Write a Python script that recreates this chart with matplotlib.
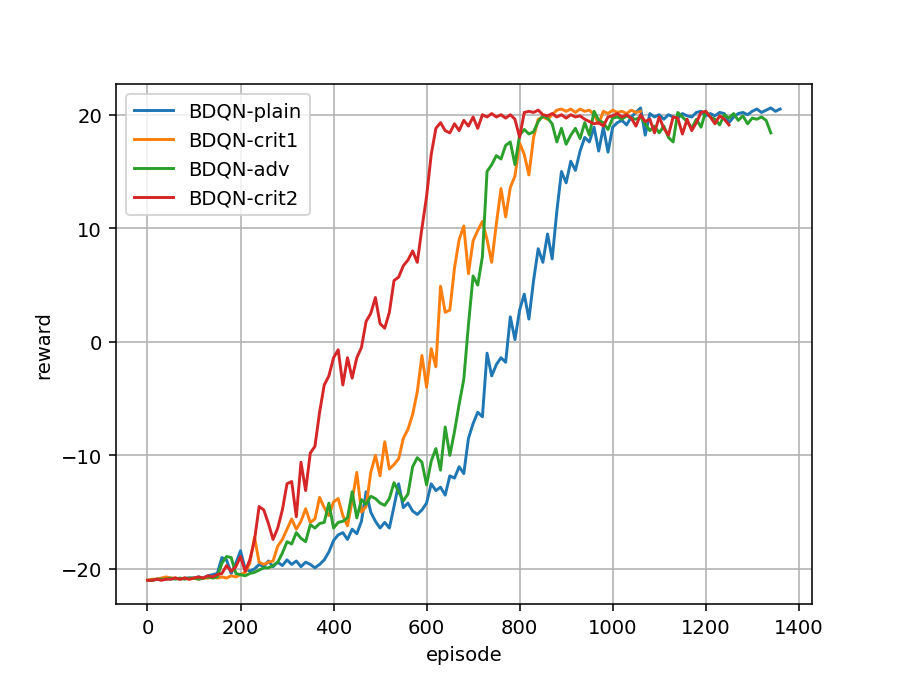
import numpy as np
import matplotlib
matplotlib.use('Agg')
import matplotlib.pyplot as plt

# reward relevé tous les 10 épisodes
plain = [-21, -21, -20.9, -20.9, -20.8, -20.9, -20.8, -20.9, -20.8, -20.8,
         -20.8, -20.7, -20.8, -20.6, -20.5, -20.4, -19.0, -19.2, -20.4, -19.5,
         -18.4, -20.0, -20.2, -20.0, -19.6, -19.8, -19.3, -19.8, -19.4, -19.7,
         -19.2, -19.6, -19.3, -19.8, -19.4, -19.6, -19.9, -19.6, -19.2, -18.5,
         -17.5, -17.0, -16.8, -17.4, -16.5, -16.9, -15.8, -13.2, -15.0, -15.8,
         -16.4, -15.9, -16.4, -14.5, -12.5, -14.6, -14.2, -14.9, -15.2, -14.8,
         -14.2, -12.5, -13.1, -12.8, -13.5, -11.8, -12.0, -11.0, -11.6, -8.5,
         -7.2, -6.2, -6.6, -1.0, -3.0, -2.0, -1.4, -1.8, 2.2, 0.2,
         2.8, 4.2, 2.0, 5.4, 8.2, 7.0, 9.5, 7.3, 11.5, 15.0,
         14.0, 15.9, 15.1, 16.8, 18.0, 17.6, 18.9, 16.8, 18.9, 16.7,
         18.9, 19.3, 19.5, 19.1, 19.8, 20.2, 20.6, 18.2, 20.1, 19.8,
         20.0, 19.6, 20.0, 19.8, 19.7, 20.1, 19.9, 19.8, 20.2, 20.3,
         19.9, 20.1, 19.9, 20.2, 20.1, 19.3, 19.8, 20.1, 20.2, 20.0,
         20.3, 20.5, 20.2, 20.4, 20.6, 20.3, 20.5]

crit1 = [-21, -20.9, -20.9, -20.8, -20.7, -20.8, -20.8, -20.9, -20.8, -20.9,
         -20.8, -20.9, -20.8, -20.8, -20.7, -20.8, -20.7, -20.8, -20.6, -20.7,
         -20.5, -20.3, -19.5, -17.2, -19.4, -19.6, -19.4, -19.3, -18.0, -17.4,
         -16.5, -15.6, -16.5, -15.8, -14.7, -15.9, -15.6, -13.7, -14.6, -15.3,
         -14.1, -13.8, -15.3, -16.2, -14.0, -11.5, -15.0, -14.5, -11.5, -10.0,
         -11.8, -8.8, -11.2, -10.8, -10.3, -8.5, -7.7, -6.4, -4.4, -1.2,
         -4.0, -0.6, -2.2, 4.9, 2.6, 2.8, 6.5, 9.0, 10.2, 6.0,
         8.9, 9.8, 10.6, 9.0, 7.0, 10.4, 13.5, 11.0, 13.6, 14.6,
         17.5, 16.5, 14.7, 18.0, 19.6, 19.8, 19.6, 20.0, 20.4, 20.5,
         20.3, 20.5, 20.2, 20.5, 20.3, 20.4, 20.0, 19.2, 20.3, 20.1,
         20.4, 20.2, 20.3, 20.1, 20.4, 20.2, 20.3]

adv = [-21, -21, -20.9, -20.9, -20.9, -20.8, -20.9, -20.8, -20.9, -20.8,
       -20.8, -20.9, -20.8, -20.7, -20.8, -20.7, -19.5, -18.9, -19.0, -20.4,
       -20.5, -20.6, -20.4, -20.3, -20.1, -19.9, -19.9, -19.7, -19.4, -18.6,
       -17.6, -17.8, -16.8, -17.3, -17.6, -16.1, -16.4, -16.0, -15.9, -14.2,
       -16.4, -15.9, -15.8, -15.5, -13.2, -15.5, -13.9, -14.3, -13.6, -13.8,
       -14.2, -14.4, -13.8, -12.4, -13.2, -14.0, -13.4, -11.0, -10.2, -10.6,
       -12.6, -10.5, -9.4, -11.3, -7.5, -10.0, -7.9, -5.5, -3.3, 1.5,
       5.8, 5.0, 7.5, 15.0, 15.6, 16.4, 16.1, 17.3, 17.6, 15.6,
       18.2, 18.7, 18.3, 18.5, 19.4, 19.9, 19.7, 19.2, 17.6, 18.8,
       17.4, 18.2, 18.8, 17.9, 19.3, 18.2, 20.3, 19.5, 19.3, 18.7,
       19.7, 19.8, 19.6, 19.9, 19.7, 19.6, 19.8, 19.2, 18.6, 19.0,
       18.4, 19.0, 18.0, 17.6, 20.2, 19.8, 19.4, 18.8, 19.6, 18.9,
       20.3, 19.8, 19.6, 19.1, 20.0, 19.7, 20.1, 19.5, 19.9, 19.2,
       19.7, 19.6, 19.8, 19.5, 18.4]

crit2 = [-21, -21, -20.9, -21.0, -20.9, -20.9, -20.8, -20.9, -20.8, -20.9,
         -20.8, -20.7, -20.8, -20.6, -20.7, -20.5, -20.4, -19.7, -20.2, -19.8,
         -18.9, -20.2, -19.2, -17.5, -14.5, -14.8, -16.0, -17.4, -16.4, -14.8,
         -12.5, -12.3, -15.4, -10.6, -13.1, -9.8, -9.2, -6.2, -3.8, -3.0,
         -1.4, -0.7, -3.8, -1.4, -3.2, -1.4, -0.5, 1.8, 2.5, 3.9,
         1.6, 1.2, 2.6, 5.4, 5.7, 6.7, 7.2, 8.0, 7.0, 10.0,
         12.8, 16.5, 18.8, 19.3, 18.6, 18.4, 19.2, 18.6, 19.5, 19.0,
         19.8, 18.8, 20.0, 19.8, 20.1, 19.8, 20.0, 19.7, 20.0, 19.6,
         18.0, 20.2, 20.3, 20.2, 20.4, 20.0, 19.9, 20.1, 19.8, 20.0,
         19.7, 20.0, 19.8, 19.9, 19.6, 19.4, 19.2, 19.3, 19.0, 19.8,
         19.9, 20.1, 19.8, 20.0, 19.7, 19.0, 20.0, 19.4, 19.6, 18.4,
         19.8, 18.8, 18.2, 19.8, 19.7, 18.3, 19.6, 18.6, 19.3, 20.2,
         20.3, 19.8, 19.2, 19.9, 19.6, 19.1]

series = [('BDQN-plain', plain), ('BDQN-crit1', crit1),
          ('BDQN-adv', adv), ('BDQN-crit2', crit2)]

fig, ax = plt.subplots(figsize=(6.4, 4.823), dpi=141.4)
fig.subplots_adjust(left=0.128, right=0.897, top=0.875, bottom=0.113)
for nom, vals in series:
    episodes = np.arange(len(vals)) * 10
    ax.plot(episodes, vals, label=nom)

ax.set_xlabel('episode')
ax.set_ylabel('reward')
ax.grid(True)
ax.legend(loc='upper left')
plt.savefig('out.png')
